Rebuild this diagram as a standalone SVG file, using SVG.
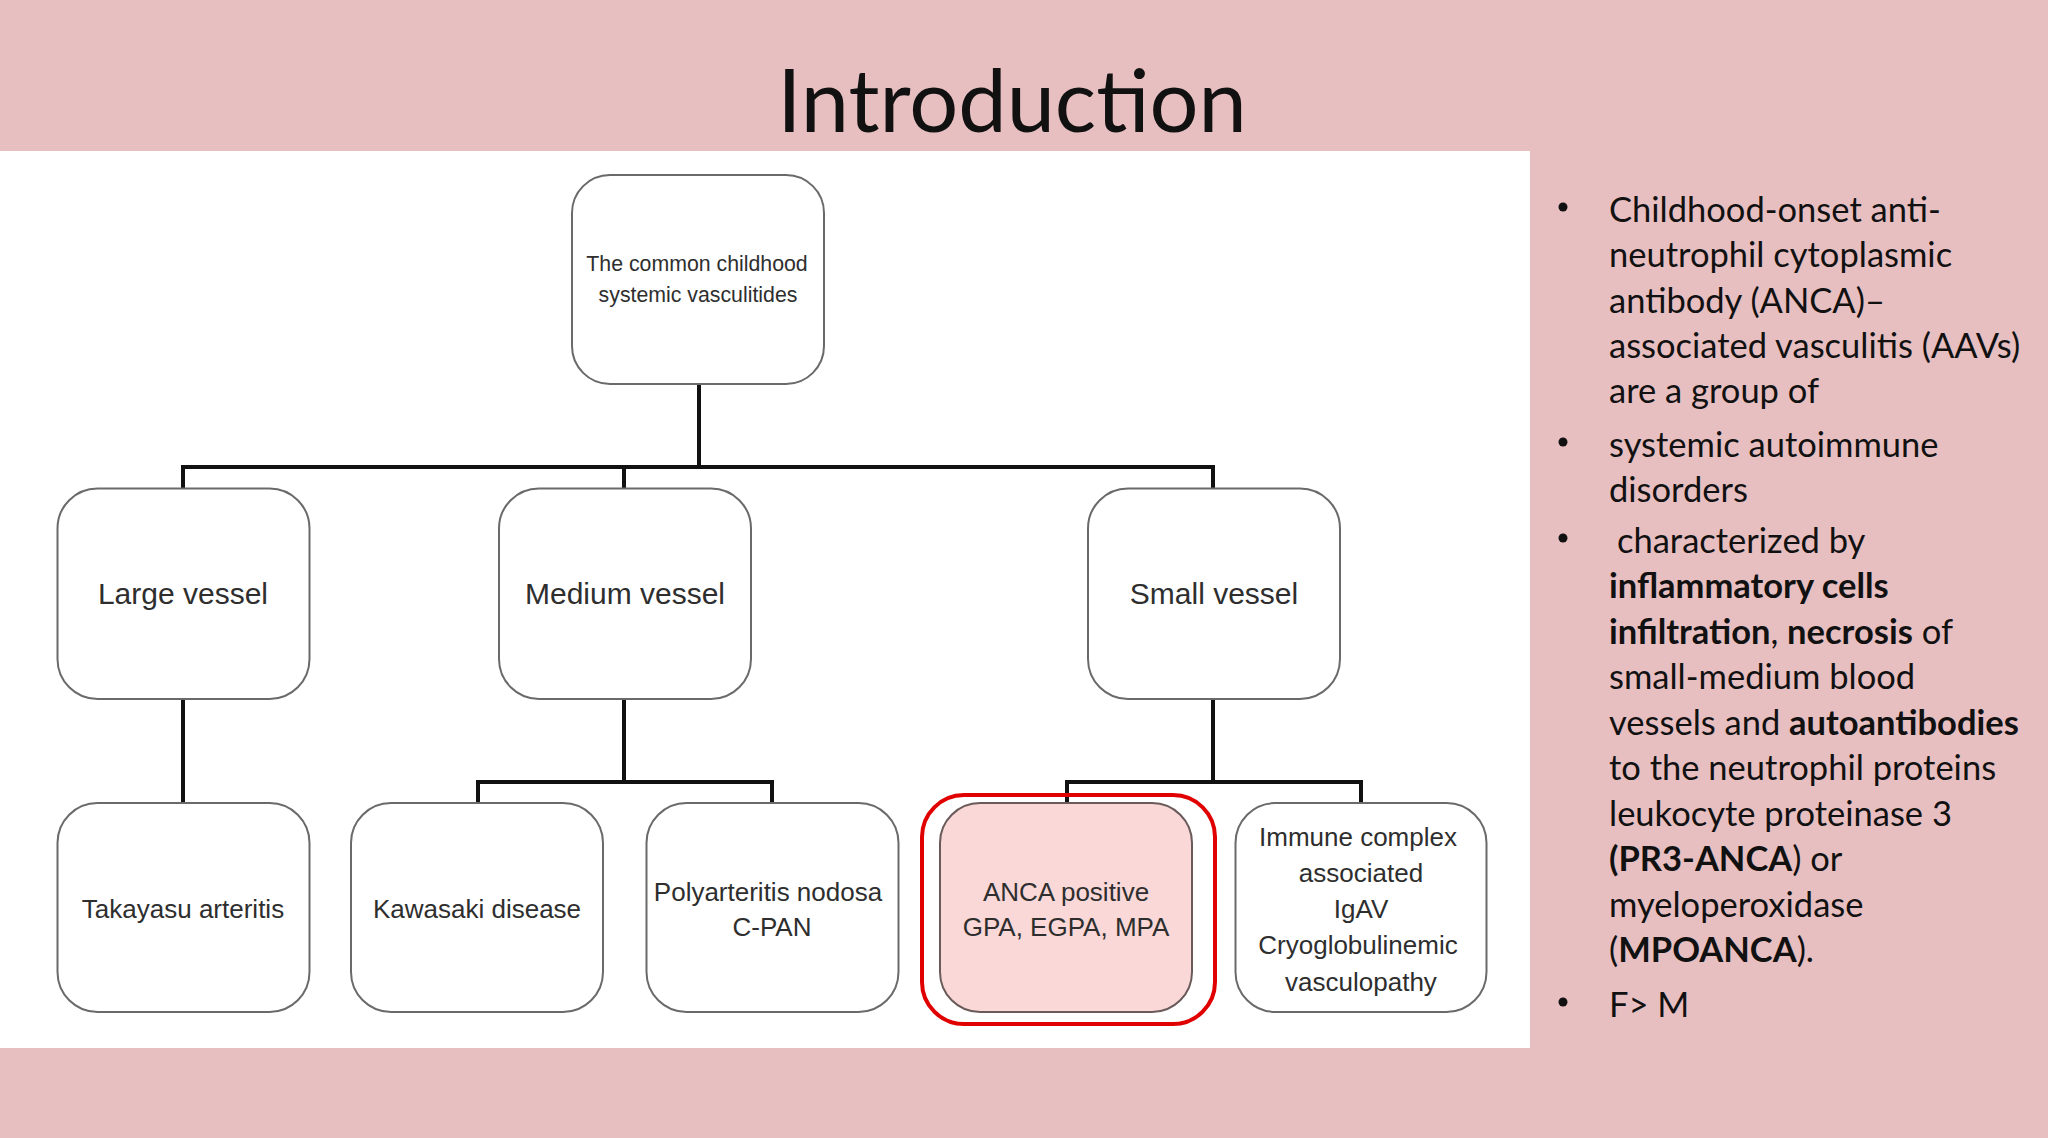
<svg xmlns="http://www.w3.org/2000/svg" width="2048" height="1138" viewBox="0 0 2048 1138">
<defs>
<style>
.box{fill:#ffffff;stroke:#6a6a6a;stroke-width:2}
.bt{font-family:"Liberation Sans",Arial,sans-serif;fill:#2e2e2e;text-anchor:middle}
.conn{fill:none;stroke:#111;stroke-width:4;stroke-linecap:square}
.rt{font-family:Lato,"Open Sans",sans-serif;font-size:34.5px;fill:#111}
.b{font-weight:bold}
.bul{fill:#111}
</style>
</defs>
<rect x="0" y="0" width="2048" height="1138" fill="#E8BFC1"/>
<text x="1012" y="132" font-family="Lato,'Open Sans',sans-serif" font-size="86.5" fill="#111" text-anchor="middle">Introduction</text>
<rect x="0" y="151" width="1530" height="897" fill="#ffffff"/>

<g id="connectors">
<path class="conn" d="M699 384 V467 M183 467 H1213 M183 467 V488 M624 467 V488 M1213 467 V488"/>
<path class="conn" d="M183 699 V803"/>
<path class="conn" d="M624 699 V782 M478 782 H772 M478 782 V803 M772 782 V803"/>
<path class="conn" d="M1213 699 V782 M1067 782 H1361 M1067 782 V803 M1361 782 V803"/>
</g>

<g id="root">
<rect class="box" x="572" y="175" width="252" height="209" rx="38"/>
<text class="bt" font-size="21.3" x="697" y="271">The common childhood</text>
<text class="bt" font-size="21.3" x="698" y="302">systemic vasculitides</text>
</g>
<g id="large">
<rect class="box" x="57.5" y="488.5" width="252" height="210.5" rx="40"/>
<text class="bt" font-size="30" x="183" y="604">Large vessel</text>
</g>
<g id="medium">
<rect class="box" x="499" y="488.5" width="252" height="210.5" rx="40"/>
<text class="bt" font-size="30" x="625" y="604">Medium vessel</text>
</g>
<g id="small">
<rect class="box" x="1088" y="488.5" width="252" height="210.5" rx="40"/>
<text class="bt" font-size="30" x="1214" y="604">Small vessel</text>
</g>
<g id="takayasu">
<rect class="box" x="57.5" y="803" width="252" height="209" rx="40"/>
<text class="bt" font-size="26" x="183" y="918">Takayasu arteritis</text>
</g>
<g id="kawasaki">
<rect class="box" x="351" y="803" width="252" height="209" rx="40"/>
<text class="bt" font-size="26" x="477" y="918">Kawasaki disease</text>
</g>
<g id="pan">
<rect class="box" x="646.5" y="803" width="252" height="209" rx="40"/>
<text class="bt" font-size="26" x="768" y="901">Polyarteritis nodosa</text>
<text class="bt" font-size="26" x="772" y="936">C-PAN</text>
</g>
<g id="anca">
<rect x="922" y="795" width="293" height="229" rx="42" fill="none" stroke="#e00000" stroke-width="4"/>
<rect x="940" y="803" width="252" height="209" rx="40" fill="#fad8d8" stroke="#6a5a5a" stroke-width="2"/>
<text class="bt" font-size="26" x="1066" y="901" fill="#3a2a2a">ANCA positive</text>
<text class="bt" font-size="26" x="1066" y="936" fill="#3a2a2a">GPA, EGPA, MPA</text>
</g>
<g id="immune">
<rect class="box" x="1235.5" y="803" width="251" height="209" rx="40"/>
<text class="bt" font-size="26" x="1358" y="846">Immune complex</text>
<text class="bt" font-size="26" x="1361" y="882">associated</text>
<text class="bt" font-size="26" x="1361" y="918">IgAV</text>
<text class="bt" font-size="26" x="1358" y="954">Cryoglobulinemic</text>
<text class="bt" font-size="26" x="1361" y="991">vasculopathy</text>
</g>

<g id="bullets">
<circle class="bul" cx="1563" cy="207" r="4.5"/>
<circle class="bul" cx="1563" cy="442" r="4.5"/>
<circle class="bul" cx="1563" cy="538" r="4.5"/>
<circle class="bul" cx="1563" cy="1002" r="4.5"/>
<text class="rt" x="1609" y="222">Childhood-onset anti-</text>
<text class="rt" x="1609" y="267">neutrophil cytoplasmic</text>
<text class="rt" x="1609" y="312.5">antibody (ANCA)–</text>
<text class="rt" x="1609" y="358">associated vasculitis (AAVs)</text>
<text class="rt" x="1609" y="403">are a group of</text>
<text class="rt" x="1609" y="457">systemic autoimmune</text>
<text class="rt" x="1609" y="502">disorders</text>
<text class="rt" x="1617" y="553">characterized by</text>
<text class="rt b" x="1609" y="598">inflammatory cells</text>
<text class="rt" x="1609" y="643.5"><tspan class="b">infiltration</tspan>, <tspan class="b">necrosis</tspan> of</text>
<text class="rt" x="1609" y="689">small-medium blood</text>
<text class="rt" x="1609" y="734.5">vessels and <tspan class="b">autoantibodies</tspan></text>
<text class="rt" x="1609" y="780">to the neutrophil proteins</text>
<text class="rt" x="1609" y="825.5">leukocyte proteinase 3</text>
<text class="rt" x="1609" y="871"><tspan class="b">(PR3-ANCA</tspan>) or</text>
<text class="rt" x="1609" y="916.5">myeloperoxidase</text>
<text class="rt" x="1609" y="962">(<tspan class="b">MPOANCA</tspan>).</text>
<text class="rt" x="1609" y="1017">F&gt; M</text>
</g>
</svg>
